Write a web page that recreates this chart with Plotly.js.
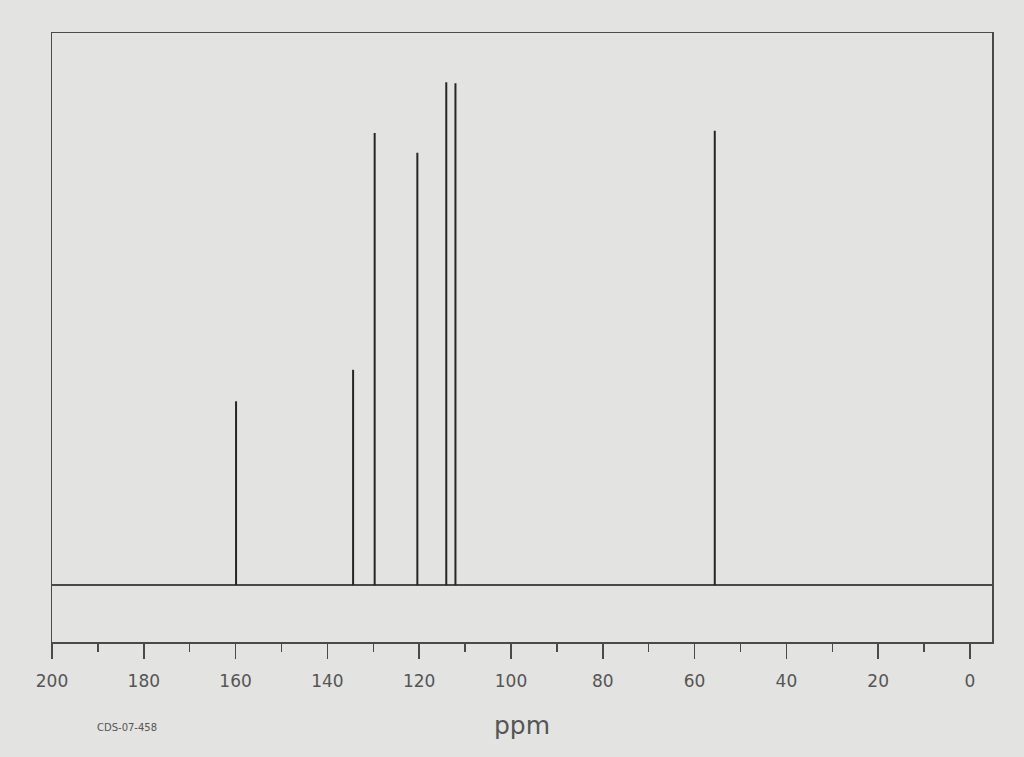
<!DOCTYPE html>
<html>
<head>
<meta charset="utf-8">
<script src="https://cdn.plot.ly/plotly-3.0.1.min.js"></script>
<style>
  html, body { margin: 0; padding: 0; background: #e3e3e1; }
  #chart { width: 1024px; height: 757px; }
</style>
</head>
<body>
<div id="chart"></div>
<script>
// 13C NMR peaks (ppm) and relative intensities
const peakShifts = [159.9, 134.4, 129.7, 120.4, 114.1, 112.1, 55.6];
const peakHeights = [0.333, 0.390, 0.819, 0.783, 0.911, 0.909, 0.823];
const tickValues = [200, 180, 160, 140, 120, 100, 80, 60, 40, 20, 0];
const tickLabels = ["200", "180", "160", "140", "120", "100", "80", "60", "40", "20", "0"];
const sampleId = "CDS-07-458";
const xLabel = "ppm";

// build stick spectrum from the arrays
const xs = [], ys = [];
peakShifts.forEach((p, i) => {
  xs.push(p, p, null);
  ys.push(0, peakHeights[i], null);
});

const traces = [{
  type: 'scatter',
  mode: 'lines',
  x: xs,
  y: ys,
  line: { color: '#262626', width: 2 },
  hoverinfo: 'x',
  showlegend: false
}];

const layout = {
  width: 1024,
  height: 757,
  paper_bgcolor: '#e3e3e1',
  plot_bgcolor: '#e3e3e1',
  margin: { l: 52, r: 32, t: 33, b: 115 },
  showlegend: false,
  font: { family: 'DejaVu Sans, sans-serif', color: '#555' },
  xaxis: {
    range: [200, -4.8],
    tickmode: 'array',
    tickvals: tickValues,
    ticktext: tickLabels,
    ticks: 'outside',
    ticklen: 15,
    tickwidth: 1.5,
    tickcolor: '#4a4a4a',
    ticklabelstandoff: 8,
    minor: { dtick: 10, ticks: 'outside', ticklen: 8, tickwidth: 1.5, tickcolor: '#4a4a4a' },
    tickfont: { size: 17, color: '#555' },
    showgrid: false,
    zeroline: false,
    showline: true,
    linecolor: '#4a4a4a',
    linewidth: 1.5,
    mirror: true,
    title: { text: xLabel, font: { size: 25, color: '#555' }, standoff: 26 }
  },
  yaxis: {
    range: [-0.103, 1.0],
    showticklabels: false,
    ticks: '',
    showgrid: false,
    zeroline: true,
    zerolinecolor: '#4a4a4a',
    zerolinewidth: 1.5,
    showline: true,
    linecolor: '#4a4a4a',
    linewidth: 1.5,
    mirror: true
  },
  annotations: [{
    text: sampleId,
    xref: 'paper', yref: 'paper',
    x: 0.046, y: -0.141,
    xanchor: 'left', yanchor: 'middle',
    showarrow: false,
    font: { size: 10, color: '#555', family: 'DejaVu Sans, sans-serif' }
  }]
};

Plotly.newPlot('chart', traces, layout, { displayModeBar: false, staticPlot: true });
</script>
</body>
</html>
